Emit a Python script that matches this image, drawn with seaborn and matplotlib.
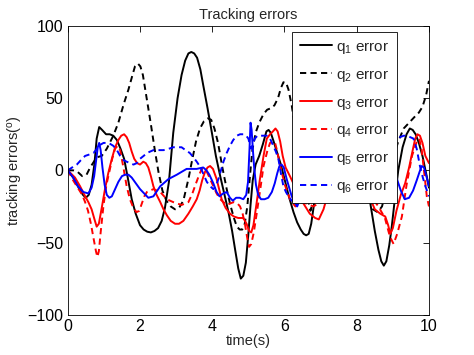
import numpy as np
import pandas as pd
import matplotlib
matplotlib.use("Agg")
import matplotlib.pyplot as plt
import seaborn as sns

# values (time in s, error in degrees)
t_q1 = [0, 0.15, 0.3, 0.42, 0.5, 0.58, 0.66, 0.74, 0.8, 0.87, 0.95, 1.06, 1.16, 1.26,
        1.36, 1.46, 1.56, 1.66, 1.77, 1.88, 2.0, 2.1, 2.2, 2.3, 2.4, 2.5, 2.6, 2.69,
        2.8, 2.92, 3.04, 3.15, 3.25, 3.34, 3.42, 3.5, 3.58, 3.67, 3.75, 3.87, 3.99,
        4.1, 4.22, 4.34, 4.45, 4.55, 4.64, 4.72, 4.79, 4.86, 4.93, 5.0, 5.06, 5.12,
        5.2, 5.3, 5.4, 5.5, 5.56, 5.62, 5.7, 5.8, 5.9, 6.0, 6.12, 6.25, 6.35, 6.45,
        6.53, 6.6, 6.67, 6.74, 6.82, 6.9, 7.1, 7.5, 7.9, 8.2, 8.37, 8.5, 8.6, 8.68,
        8.75, 8.82, 8.9, 8.97, 9.05, 9.15, 9.27, 9.38, 9.47, 9.55, 9.63, 9.72, 9.82,
        9.92, 10]
e_q1 = [0, -5, -12, -17, -19, -17, -10, 5, 22, 30, 28, 25, 25, 24,
        21, 15, 8, -5, -20, -30, -38, -41, -42.5, -43, -42, -40, -35, -26,
        -8, 26, 50, 66, 76, 81, 82, 81, 78, 70, 59, 43, 26,
        10, -4, -17, -29, -42, -56, -68, -75, -73, -64, -44, -24, -7,
        4, 10, 18, 27, 28, 26, 20, 12, 4, -6, -18, -29, -36, -41,
        -44, -45, -44, -37, -23, -8, 10, 15, 5, -8, -22, -42, -55, -63,
        -66, -63, -52, -39, -21, 0, 16, 25, 29, 28, 25, 19, 10,
        -2, -12]

t_q2 = [0, 0.15, 0.27, 0.4, 0.52, 0.62, 0.8, 0.94, 1.08, 1.26, 1.4, 1.55, 1.68, 1.78,
        1.86, 1.94, 2.01, 2.08, 2.19, 2.3, 2.41, 2.51, 2.62, 2.73, 2.85, 2.97, 3.08,
        3.2, 3.34, 3.45, 3.55, 3.66, 3.77, 3.88, 3.97, 4.06, 4.16, 4.28, 4.4, 4.5,
        4.6, 4.68, 4.76, 4.83, 4.9, 4.97, 5.04, 5.11, 5.2, 5.3, 5.42, 5.52, 5.62,
        5.72, 5.82, 5.9, 5.97, 6.04, 6.11, 6.2, 6.35, 6.55, 6.72, 6.85, 7.2, 7.6,
        8.0, 8.3, 8.45, 8.58, 8.7, 8.85, 9.0, 9.15, 9.3, 9.45, 9.6, 9.72, 9.82,
        9.92, 10]
e_q2 = [0, 0, -1, -4, -3, 2, 9, 10, 15, 24, 33, 46, 56, 65,
        72, 74, 72, 66, 49, 32, 14, -1, -14, -21, -25, -27, -26,
        -21, -6, 8, 20, 29, 34, 36, 35, 29, 19, 2, -13, -24,
        -33, -39, -41, -41, -37, -25, -5, 14, 26, 33, 39, 42, 43,
        45, 50, 57, 61, 61, 56, 45, 20, -10, -28, -15, 5, 12,
        5, -15, -27, -29, -25, -10, 8, 20, 29, 33, 37, 40, 44,
        52, 62]

t_q3 = [0, 0.2, 0.34, 0.46, 0.57, 0.66, 0.74, 0.8, 0.86, 0.94, 1.03, 1.12, 1.22,
        1.31, 1.4, 1.48, 1.56, 1.63, 1.7, 1.77, 1.84, 1.92, 2.0, 2.09, 2.16, 2.23,
        2.3, 2.37, 2.46, 2.56, 2.65, 2.74, 2.85, 2.97, 3.08, 3.2, 3.34, 3.46, 3.57,
        3.65, 3.72, 3.8, 3.87, 3.94, 4.02, 4.12, 4.26, 4.37, 4.49, 4.6, 4.72, 4.86,
        4.95, 5.02, 5.08, 5.14, 5.22, 5.32, 5.42, 5.51, 5.6, 5.68, 5.75, 5.81, 5.88,
        5.95, 6.03, 6.15, 6.3, 6.5, 6.7, 6.85, 6.95, 7.08, 7.25, 7.6, 8.0, 8.3, 8.5,
        8.65, 8.79, 8.87, 8.93, 9.0, 9.1, 9.22, 9.34, 9.45, 9.55, 9.62, 9.68, 9.75,
        9.82, 9.9, 10]
e_q3 = [0, -5, -11, -17, -22, -27, -34, -39, -37, -26, -13, -2, 8,
        16, 21, 24, 25, 23, 19, 13, 8, 5, 4, 6, 5, 2,
        -4, -11, -17, -22, -27, -31, -35, -37, -37, -35, -30, -25, -20,
        -14, -7, -1, 2, 3, 1, -6, -20, -26, -30, -32, -33, -33,
        -37, -42, -43, -38, -24, -6, 10, 22, 25, 27, 29, 27, 20,
        10, 2, -4, -12, -22, -30, -33, -34, -27, -12, -5, 0, -15, -27,
        -30, -32, -38, -44, -40, -28, -17, -9, 2, 14, 22, 25, 24,
        19, 10, 5]

t_q4 = [0, 0.15, 0.3, 0.4, 0.48, 0.56, 0.64, 0.72, 0.78, 0.82, 0.86, 0.91, 0.99,
        1.07, 1.15, 1.23, 1.31, 1.38, 1.45, 1.54, 1.63, 1.72, 1.8, 1.9, 1.98, 2.05,
        2.12, 2.19, 2.37, 2.56, 2.74, 2.92, 3.15, 3.34, 3.45, 3.55, 3.64, 3.71, 3.78,
        3.85, 3.94, 4.03, 4.12, 4.22, 4.4, 4.59, 4.7, 4.77, 4.84, 4.91, 4.97, 5.02,
        5.08, 5.15, 5.23, 5.33, 5.42, 5.52, 5.6, 5.67, 5.74, 5.8, 5.88, 5.95, 6.01,
        6.15, 6.3, 6.5, 6.8, 7.0, 7.2, 7.6, 8.0, 8.3, 8.6, 8.78, 8.92, 9.02, 9.12,
        9.25, 9.38, 9.53, 9.65, 9.73, 9.8, 9.87, 9.94, 10]
e_q4 = [0, -7, -13, -17, -22, -28, -37, -48, -56, -60, -56, -43, -24,
        -10, -1, 8, 15, 17, 14, 2, -11, -20, -25, -29, -28, -23,
        -18, -15, -13, -15, -20, -22, -24, -22, -16, -9, -3, 1, 1,
        -1, -6, -11, -16, -20, -24, -22, -23, -25, -30, -38, -47, -53,
        -51, -43, -30, -13, 3, 13, 19, 20, 19, 13, 3, -4, -10,
        -20, -25, -22, -25, -22, -15, 0, -5, -15, -25, -33, -46, -51, -44,
        -32, -10, 10, 19, 22, 14, -2, -18, -25]

t_q5 = [0, 0.15, 0.28, 0.43, 0.57, 0.66, 0.73, 0.79, 0.83, 0.87, 0.91, 0.96, 1.02,
        1.08, 1.15, 1.22, 1.31, 1.4, 1.5, 1.59, 1.68, 1.77, 2.0, 2.23, 2.37, 2.56,
        2.79, 3.02, 3.29, 3.57, 3.75, 3.84, 3.92, 4.03, 4.12, 4.2, 4.3, 4.4, 4.49,
        4.57, 4.66, 4.76, 4.86, 4.94, 4.99, 5.03, 5.06, 5.09, 5.12, 5.16, 5.21, 5.27,
        5.35, 5.45, 5.55, 5.65, 5.73, 5.8, 5.86, 5.92, 5.98, 6.06, 6.2, 6.35, 6.6,
        7.0, 7.5, 8.0, 8.5, 8.9, 9.1, 9.22, 9.33, 9.45, 9.56, 9.66, 9.74, 9.8, 9.86,
        9.93, 10]
e_q5 = [0, -5, -11, -15, -16, -12, -4, 8, 16, 19, 14, 2, -10,
        -17, -19, -18, -13, -8, -4, -3, -3, -5, -13, -19, -18, -11,
        -6, -3, 1, 1, 2, 0, -3, -9, -15, -18, -16, -15, -19,
        -21, -19, -19, -20, -17, -8, 14, 33, 28, 16, 2, -10, -17,
        -20, -20, -19, -15, -9, -2, 3, 4, 2, -6, -18, -25, -10,
        0, 5, 10, 15, 10, -5, -14, -20, -19, -14, -7, -1, 3, 2,
        -4, -11]

t_q6 = [0, 0.12, 0.25, 0.36, 0.48, 0.6, 0.71, 0.78, 0.85, 0.92, 0.99, 1.13, 1.26,
        1.36, 1.45, 1.55, 1.63, 1.72, 1.82, 1.91, 2.0, 2.1, 2.19, 2.28, 2.37, 2.5,
        2.65, 2.8, 2.92, 3.03, 3.15, 3.26, 3.38, 3.48, 3.57, 3.65, 3.71, 3.78, 3.85,
        3.94, 4.03, 4.1, 4.17, 4.24, 4.31, 4.4, 4.49, 4.58, 4.68, 4.77, 4.86, 4.94,
        5.0, 5.04, 5.08, 5.12, 5.18, 5.25, 5.32, 5.42, 5.51, 5.6, 5.69, 5.76, 5.83,
        5.9, 5.97, 6.04, 6.11, 6.2, 6.3, 6.6, 7.0, 7.5, 8.0, 8.5, 8.9, 9.1, 9.2,
        9.3, 9.38, 9.48, 9.57, 9.66, 9.75, 9.83, 9.9, 9.96, 10]
e_q6 = [0, 2, 4, 7, 10, 11, 12, 14, 17, 18, 19, 19, 17,
        14, 10, 7, 6, 5, 4, 5, 8, 10, 12, 13, 14, 14,
        14, 15, 16, 16, 16, 14, 12, 9, 6, 3, 0, -4, -8,
        -11, -13, -11, -6, 0, 6, 12, 17, 21, 24, 25, 25, 24,
        22, 18, 15, 18, 22, 24, 24, 24, 24, 22, 17, 13, 8,
        -2, -11, -15, -18, -21, -22, -10, 5, 10, 15, 18, 20, 22, 23,
        24, 24, 23, 22, 15, 3, -5, -11, -15, -18]

labels = [r"q$_1$ error", r"q$_2$ error", r"q$_3$ error",
          r"q$_4$ error", r"q$_5$ error", r"q$_6$ error"]
times = [t_q1, t_q2, t_q3, t_q4, t_q5, t_q6]
errors = [e_q1, e_q2, e_q3, e_q4, e_q5, e_q6]
colors = ["black", "black", "#ff0000", "#ff0000", "#0000ff", "#0000ff"]
styles = ["-", "--", "-", "--", "-", "--"]

sns.set_style("white")
plt.rcParams["font.family"] = ["Liberation Sans", "DejaVu Sans"]
plt.rcParams["mathtext.fontset"] = "custom"
plt.rcParams["mathtext.rm"] = "Liberation Sans"
plt.rcParams["mathtext.it"] = "Liberation Sans:italic"

fig = plt.figure(figsize=(4.74, 3.55), dpi=100)
ax = fig.add_axes([0.143, 0.1135, 0.762, 0.8133])

for t, e, c, ls, lab in zip(times, errors, colors, styles, labels):
    df = pd.DataFrame({"time": t, "err": e})
    sns.lineplot(data=df, x="time", y="err", ax=ax, color=c, linestyle=ls,
                 linewidth=1.4, label=lab, estimator=None, sort=False,
                 dashes=False)
for line in ax.get_lines():
    if line.get_linestyle() == "--":
        line.set_dashes([3.2, 2.2])

ax.set_xlim(0, 10)
ax.set_ylim(-100, 100)
ax.set_xticks([0, 2, 4, 6, 8, 10])
ax.set_yticks([-100, -50, 0, 50, 100])
ax.tick_params(direction="in", top=True, right=True, length=4, width=0.6,
               labelsize=11.5, pad=3, colors="black")
for sp in ax.spines.values():
    sp.set_visible(True)
    sp.set_color("black")
    sp.set_linewidth(0.6)

ax.set_title("Tracking errors", fontsize=10.5, pad=5)
ax.set_xlabel("time(s)", fontsize=10.5, labelpad=0)
ax.set_ylabel(r"tracking errors($^{\rm o}$)", fontsize=10.5, labelpad=2)

leg = ax.legend(loc="upper right", bbox_to_anchor=(0.911, 0.979),
                borderaxespad=0, fontsize=11, frameon=True, fancybox=False,
                framealpha=1, edgecolor="black", handlelength=2.1,
                handletextpad=0.25, labelspacing=0.78, borderpad=0.5)
leg.get_frame().set_linewidth(0.6)
leg.set_zorder(10)

fig.savefig("out.png", dpi=100)
